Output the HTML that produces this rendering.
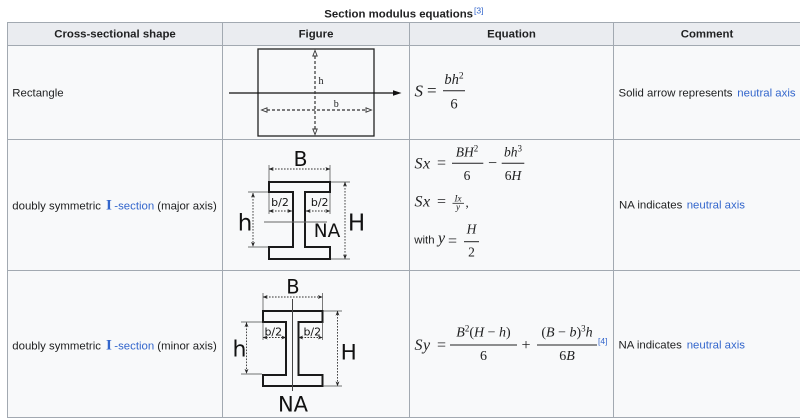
<!DOCTYPE html>
<html><head><meta charset="utf-8">
<style>
html,body{margin:0;padding:0;background:#fff;width:800px;height:420px;overflow:hidden}
svg{display:block}
.s{font-family:"Liberation Sans",Arial,sans-serif;font-size:11.4px;fill:#202122}
.b{font-weight:bold}
.lk{fill:#3366cc}
.m{font-family:"Liberation Serif","DejaVu Serif",serif;font-style:italic;fill:#202122}
.u{font-family:"Liberation Serif","DejaVu Serif",serif;font-style:normal;fill:#202122}
.f{font-family:"DejaVu Sans","Liberation Sans",sans-serif;fill:#111}
.dim{stroke:#333;stroke-width:0.9;stroke-dasharray:1.6,1.4;fill:none}
.ext{stroke:#444;stroke-width:0.7;fill:none}
</style></head>
<body>
<svg width="800" height="420" viewBox="0 0 800 420" xmlns="http://www.w3.org/2000/svg">
<defs>
<marker id="ar" viewBox="0 0 10 8" refX="9.5" refY="4" markerWidth="5" markerHeight="4" orient="auto-start-reverse" markerUnits="userSpaceOnUse">
<path d="M0,0 L10,4 L0,8 L3,4 Z" fill="#222"/>
</marker>
</defs>

<!-- table backgrounds -->
<rect x="7" y="22" width="793" height="23.5" fill="#eaecf0"/>
<rect x="7" y="45.5" width="793" height="372" fill="#f8f9fa"/>
<!-- borders -->
<g stroke="#a2a9b1" stroke-width="1">
<line x1="7" y1="22.5" x2="800" y2="22.5"/>
<line x1="7" y1="45.5" x2="800" y2="45.5"/>
<line x1="7" y1="139.5" x2="800" y2="139.5"/>
<line x1="7" y1="270.5" x2="800" y2="270.5"/>
<line x1="7" y1="417.5" x2="800" y2="417.5"/>
<line x1="7.5" y1="22" x2="7.5" y2="418"/>
<line x1="222.5" y1="22" x2="222.5" y2="418"/>
<line x1="409.5" y1="22" x2="409.5" y2="418"/>
<line x1="613.5" y1="22" x2="613.5" y2="418"/>
</g>

<!-- title -->
<text class="s b" x="324.3" y="17.5">Section modulus equations</text>
<text class="s lk" x="474" y="13.5" style="font-size:8.5px">[3]</text>

<!-- headers -->
<text class="s b" x="115" y="37.4" text-anchor="middle">Cross-sectional shape</text>
<text class="s b" x="316" y="37.4" text-anchor="middle">Figure</text>
<text class="s b" x="511.5" y="37.4" text-anchor="middle">Equation</text>
<text class="s b" x="707" y="37.4" text-anchor="middle">Comment</text>

<!-- column 1 -->
<text class="s" x="12.3" y="96.7">Rectangle</text>

<text class="s" x="12.3" y="209.3">doubly symmetric</text>
<text x="106" y="209.3" style="font-family:'Liberation Serif',serif;font-weight:bold;font-size:15px;fill:#3366cc">I</text>
<text class="s lk" x="114.3" y="209.3">-section</text>
<text class="s" x="157.3" y="209.3">(major axis)</text>

<text class="s" x="12.3" y="349.3">doubly symmetric</text>
<text x="106" y="349.3" style="font-family:'Liberation Serif',serif;font-weight:bold;font-size:15px;fill:#3366cc">I</text>
<text class="s lk" x="114.3" y="349.3">-section</text>
<text class="s" x="157.3" y="349.3">(minor axis)</text>

<!-- column 4 -->
<text class="s" x="618.5" y="96.7">Solid arrow represents</text>
<text class="s lk" x="737.3" y="96.7">neutral axis</text>
<text class="s" x="619" y="208.4">NA indicates</text>
<text class="s lk" x="686.7" y="208.4">neutral axis</text>
<text class="s" x="618.5" y="348.4">NA indicates</text>
<text class="s lk" x="686.7" y="348.4">neutral axis</text>

<!-- ===== Rectangle figure ===== -->
<rect x="258" y="49" width="116" height="87" fill="none" stroke="#222" stroke-width="1.3"/>
<line x1="229" y1="93" x2="394" y2="93" stroke="#111" stroke-width="1.2"/>
<polygon points="393,90.3 401.5,93 393,95.7" fill="#111"/>
<line x1="315" y1="56" x2="315" y2="129" stroke="#333" stroke-width="1.2" stroke-dasharray="3,2"/>
<polygon points="315,50.5 312.8,56 317.2,56" fill="#f8f9fa" stroke="#333" stroke-width="0.9"/>
<polygon points="315,134.5 312.8,129 317.2,129" fill="#f8f9fa" stroke="#333" stroke-width="0.9"/>
<line x1="267" y1="110" x2="366" y2="110" stroke="#333" stroke-width="1.2" stroke-dasharray="3,2"/>
<polygon points="261.5,110 267,107.8 267,112.2" fill="#f8f9fa" stroke="#333" stroke-width="0.9"/>
<polygon points="371.5,110 366,107.8 366,112.2" fill="#f8f9fa" stroke="#333" stroke-width="0.9"/>
<text class="u" x="318.5" y="84" style="font-size:10px">h</text>
<text class="u" x="333.8" y="107" style="font-size:10px">b</text>

<!-- ===== Major axis I-section ===== -->
<path d="M269,182 H330 V192 H305 V247 H330 V259 H269 V247 H293 V192 H269 Z" fill="none" stroke="#1a1a1a" stroke-width="2"/>
<line x1="264" y1="222" x2="327" y2="222" stroke="#666" stroke-width="1"/>
<!-- B -->
<line class="ext" x1="269" y1="165" x2="269" y2="181"/>
<line class="ext" x1="330" y1="165" x2="330" y2="181"/>
<line class="dim" x1="269" y1="169" x2="330" y2="169" marker-start="url(#ar)" marker-end="url(#ar)"/>
<!-- H -->
<line class="ext" x1="331" y1="182" x2="350" y2="182"/>
<line class="ext" x1="331" y1="259" x2="350" y2="259"/>
<line class="dim" x1="345" y1="182" x2="345" y2="259" marker-start="url(#ar)" marker-end="url(#ar)"/>
<!-- h -->
<line class="ext" x1="248" y1="192" x2="268" y2="192"/>
<line class="ext" x1="248" y1="247" x2="268" y2="247"/>
<line class="dim" x1="253" y1="193" x2="253" y2="246.5" marker-start="url(#ar)" marker-end="url(#ar)"/>
<!-- b/2 -->
<line class="ext" x1="269" y1="193" x2="269" y2="214"/>
<line class="ext" x1="330" y1="193" x2="330" y2="214"/>
<line class="dim" x1="269" y1="211" x2="292" y2="211" marker-start="url(#ar)" marker-end="url(#ar)"/>
<line class="dim" x1="306" y1="211" x2="330" y2="211" marker-start="url(#ar)" marker-end="url(#ar)"/>
<text class="f" x="300.5" y="166" text-anchor="middle" style="font-size:20.5px">B</text>
<text class="f" x="356.5" y="230.5" text-anchor="middle" style="font-size:23px">H</text>
<text class="f" x="245" y="230.5" text-anchor="middle" style="font-size:23px">h</text>
<text class="f" x="327" y="236.8" text-anchor="middle" style="font-size:18.5px">NA</text>
<text class="f" x="280" y="206" text-anchor="middle" style="font-size:11px">b/2</text>
<text class="f" x="319.7" y="206" text-anchor="middle" style="font-size:11px">b/2</text>

<!-- ===== Minor axis I-section ===== -->
<path d="M263,311 H322.5 V322 H298.5 V375 H322.5 V386 H263 V375 H286 V322 H263 Z" fill="none" stroke="#1a1a1a" stroke-width="2"/>
<line x1="292.5" y1="299" x2="292.5" y2="391" stroke="#444" stroke-width="1"/>
<!-- B -->
<line class="ext" x1="263" y1="293" x2="263" y2="310"/>
<line class="ext" x1="322.5" y1="293" x2="322.5" y2="310"/>
<line class="dim" x1="263" y1="297" x2="322.5" y2="297" marker-start="url(#ar)" marker-end="url(#ar)"/>
<!-- H -->
<line class="ext" x1="323" y1="311" x2="342" y2="311"/>
<line class="ext" x1="323" y1="386" x2="342" y2="386"/>
<line class="dim" x1="337.5" y1="311" x2="337.5" y2="386" marker-start="url(#ar)" marker-end="url(#ar)"/>
<!-- h -->
<line class="ext" x1="241" y1="322" x2="262" y2="322"/>
<line class="ext" x1="241" y1="374" x2="262" y2="374"/>
<line class="dim" x1="246.5" y1="322.5" x2="246.5" y2="373.5" marker-start="url(#ar)" marker-end="url(#ar)"/>
<!-- b/2 -->
<line class="ext" x1="263" y1="322" x2="263" y2="340"/>
<line class="ext" x1="322.5" y1="322" x2="322.5" y2="340"/>
<line class="dim" x1="263" y1="337.5" x2="286" y2="337.5" marker-start="url(#ar)" marker-end="url(#ar)"/>
<line class="dim" x1="298.5" y1="337.5" x2="322.5" y2="337.5" marker-start="url(#ar)" marker-end="url(#ar)"/>
<text class="f" x="293" y="293.7" text-anchor="middle" style="font-size:19.5px">B</text>
<text class="f" x="348.7" y="359.3" text-anchor="middle" style="font-size:21.5px">H</text>
<text class="f" x="239.5" y="356.3" text-anchor="middle" style="font-size:22px">h</text>
<text class="f" x="293" y="411.3" text-anchor="middle" style="font-size:21px">NA</text>
<text class="f" x="273.3" y="335.5" text-anchor="middle" style="font-size:11px">b/2</text>
<text class="f" x="312.3" y="335.5" text-anchor="middle" style="font-size:11px">b/2</text>

<!-- ===== Equations ===== -->
<!-- Row 1 -->
<text class="m" x="414.5" y="96.7" style="font-size:17px">S</text>
<text class="u" x="427" y="96" style="font-size:17px">=</text>
<line x1="443" y1="90.7" x2="465" y2="90.7" stroke="#202122" stroke-width="1"/>
<text class="m" x="454" y="84" text-anchor="middle" style="font-size:14.5px">bh<tspan class="u" style="font-size:9.5px" dy="-5.5">2</tspan></text>
<text class="u" x="454" y="108.3" text-anchor="middle" style="font-size:14.5px">6</text>

<!-- Row 2 line 1 -->
<text class="m" x="414.5" y="168.3" style="font-size:16px">S<tspan dx="0.5">x</tspan></text>
<text class="u" x="437" y="168" style="font-size:16px">=</text>
<line x1="452" y1="163.3" x2="483.3" y2="163.3" stroke="#202122" stroke-width="1"/>
<text class="m" x="467" y="156.7" text-anchor="middle" style="font-size:13.5px">BH<tspan class="u" style="font-size:9px" dy="-5">2</tspan></text>
<text class="u" x="467" y="180" text-anchor="middle" style="font-size:13.5px">6</text>
<text class="u" x="492.5" y="168" text-anchor="middle" style="font-size:16px">−</text>
<line x1="501.7" y1="163.3" x2="524.3" y2="163.3" stroke="#202122" stroke-width="1"/>
<text class="m" x="513" y="156.7" text-anchor="middle" style="font-size:13.5px">bh<tspan class="u" style="font-size:9px" dy="-5">3</tspan></text>
<text class="m" x="513" y="180" text-anchor="middle" style="font-size:13.5px"><tspan class="u">6</tspan>H</text>

<!-- Row 2 line 2 -->
<text class="m" x="414.5" y="206.7" style="font-size:16px">S<tspan dx="0.5">x</tspan></text>
<text class="u" x="437" y="206.4" style="font-size:16px">=</text>
<text class="m" x="458" y="201.3" text-anchor="middle" style="font-size:9px">Ix</text>
<line x1="452.5" y1="203.3" x2="464" y2="203.3" stroke="#202122" stroke-width="0.8"/>
<text class="m" x="458" y="210" text-anchor="middle" style="font-size:9px">y</text>
<text class="u" x="465.5" y="207" style="font-size:13px">,</text>

<!-- Row 2 line 3 -->
<text class="s" x="414.3" y="243.3">with</text>
<text class="m" x="438" y="243" style="font-size:16px">y</text>
<text class="u" x="448" y="246" style="font-size:16px">=</text>
<line x1="464" y1="241.7" x2="479" y2="241.7" stroke="#202122" stroke-width="1"/>
<text class="m" x="471.5" y="233.3" text-anchor="middle" style="font-size:13.5px">H</text>
<text class="u" x="471.5" y="256.7" text-anchor="middle" style="font-size:13.5px">2</text>

<!-- Row 3 -->
<text class="m" x="414.5" y="350" style="font-size:16px">S<tspan dx="0.5">y</tspan></text>
<text class="u" x="437" y="350" style="font-size:16px">=</text>
<line x1="450" y1="345" x2="517" y2="345" stroke="#202122" stroke-width="1"/>
<text class="m" x="483.5" y="336.7" text-anchor="middle" style="font-size:14px">B<tspan class="u" style="font-size:9px" dy="-5">2</tspan><tspan class="u" dy="5">(</tspan>H<tspan class="u"> − </tspan>h<tspan class="u">)</tspan></text>
<text class="u" x="483.5" y="360" text-anchor="middle" style="font-size:14px">6</text>
<text class="u" x="526" y="350" text-anchor="middle" style="font-size:16px">+</text>
<line x1="537" y1="345" x2="597" y2="345" stroke="#202122" stroke-width="1"/>
<text class="m" x="567" y="336.7" text-anchor="middle" style="font-size:14px"><tspan class="u">(</tspan>B<tspan class="u"> − </tspan>b<tspan class="u">)</tspan><tspan class="u" style="font-size:9px" dy="-5">3</tspan><tspan dy="5">h</tspan></text>
<text class="m" x="567" y="360" text-anchor="middle" style="font-size:14px"><tspan class="u">6</tspan>B</text>
<text class="s lk" x="598" y="344" style="font-size:8.5px">[4]</text>
</svg>
</body></html>
